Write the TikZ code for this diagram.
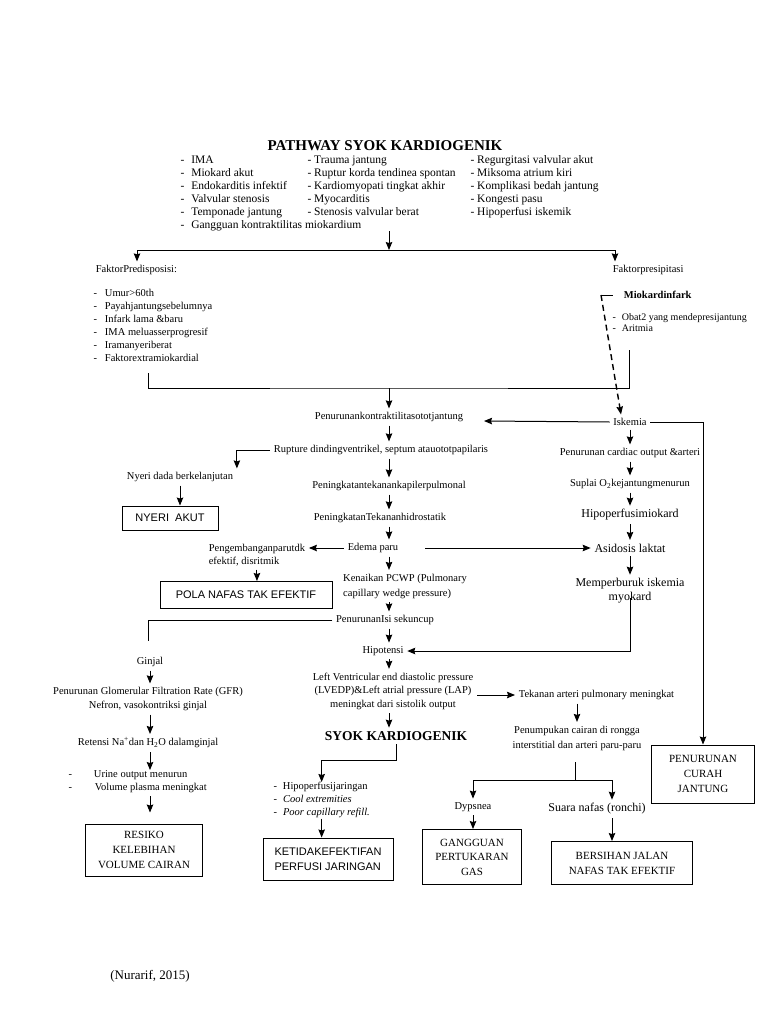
\documentclass[tikz,border=0pt]{standalone}
\usepackage{fontspec}
\setmainfont{Liberation Serif}
\setsansfont{Liberation Sans}
\usetikzlibrary{arrows.meta}

\begin{document}
\begin{tikzpicture}[x=1pt,y=-1pt,line width=1pt,
    >={Stealth[length=8pt,width=6.5pt,inset=1pt]},
    every node/.style={font=\rmfamily\fontsize{10.5}{12}\selectfont},
    big/.style={font=\rmfamily\fontsize{12}{14}\selectfont},
    lst/.style={align=left,inner sep=0pt},
    box/.style={draw,rectangle,align=center,font=\rmfamily\fontsize{11}{15}\selectfont},
    sbox/.style={box,font=\sffamily\fontsize{11}{15}\selectfont}]
    \useasboundingbox (0,0) rectangle (768,1024);
    \fill[white] (0,0) rectangle (768,1024);

    \node(title) at (385,146) {\rmfamily\fontsize{15}{17}\selectfont\bfseries PATHWAY SYOK KARDIOGENIK};
    \node(ca)[lst,anchor=north west,font=\rmfamily\fontsize{11.5}{13}\selectfont] at (180,155)
       {-\hspace{7pt}IMA\\-\hspace{7pt}Miokard akut\\-\hspace{7pt}Endokarditis infektif\\-\hspace{7pt}Valvular stenosis\\-\hspace{7pt}Temponade jantung\\-\hspace{7pt}Gangguan kontraktilitas miokardium};
    \node(cb)[lst,anchor=north west,font=\rmfamily\fontsize{11.5}{13}\selectfont] at (307,155)
       {- Trauma jantung\\- Ruptur korda tendinea spontan\\- Kardiomyopati tingkat akhir\\- Myocarditis\\- Stenosis valvular berat};
    \node(cc)[lst,anchor=north west,font=\rmfamily\fontsize{11.5}{13}\selectfont] at (470,155)
       {- Regurgitasi valvular akut\\- Miksoma atrium kiri\\- Komplikasi bedah jantung\\- Kongesti pasu\\- Hipoperfusi iskemik};

    \coordinate(sm) at (389,250);
    \coordinate(sl) at (137,250);
    \coordinate(sr) at (615,250);
    \draw[->] (ca.south -| sm) -- (sm);
    \draw (sl) -- (sr);
    \node(fpred)[anchor=west] at (92,270) {FaktorPredisposisi:};
    \node(fpres)[anchor=west] at (609,270) {Faktorpresipitasi};
    \draw[->] (sl) -- (sl |- fpred.north);
    \draw[->] (sr) -- (sr |- fpres.north);

    \node(pred)[lst,anchor=north west,font=\rmfamily\fontsize{10.5}{13}\selectfont] at (93,289)
       {-\hspace{8pt}Umur>60th\\-\hspace{8pt}Payahjantungsebelumnya\\-\hspace{8pt}Infark lama \&baru\\-\hspace{8pt}IMA meluasserprogresif\\-\hspace{8pt}Iramanyeriberat\\-\hspace{8pt}Faktorextramiokardial};
    \node(miok)[anchor=west] at (620,295) {\textbf{Miokardinfark}};
    \node(obat)[lst,anchor=north west,font=\rmfamily\fontsize{10}{11.5}\selectfont] at (612,313)
       {-\hspace{6pt}Obat2 yang mendepresijantung\\-\hspace{6pt}Aritmia};

    \coordinate(bl) at (148,373);
    \coordinate(br) at (629,350);
    \coordinate(bm) at (389,388);
    \draw (bl) |- (bm) -| (br);
    \node(pk) at (389,417) {Penurunankontraktilitasototjantung};
    \draw[->] (bm) -- (pk.north);

    \node(isk) at (630,422) {Iskemia};
    \coordinate(mk) at (601,295);
    \draw (mk) -- ++(12,0);
    \draw[dashed,dash pattern=on 6pt off 4pt,line width=1.4pt,->] (mk) -- ([xshift=-9pt]isk.north);
    \coordinate(ia) at (484,421);
    \draw[->] (isk.west) -- (ia);
    \node(pcj)[box,minimum width=103,minimum height=58] at (703,774) {PENURUNAN\\CURAH\\JANTUNG};
    \draw[->] (isk.east) -| (pcj.north);

    \node(pco) at (630,453) {Penurunan cardiac output \&arteri};
    \node(sup) at (630,484) {Suplai O\textsubscript{2}kejantungmenurun};
    \node(hpm)[big] at (630,515) {Hipoperfusimiokard};
    \node(asl)[big] at (630,548) {Asidosis laktat};
    \node(mpk)[big,align=center] at (630,591) {Memperburuk iskemia\\myokard};
    \draw[->] (isk) -- (pco);
    \draw[->] (pco) -- (sup);
    \draw[->] (sup) -- (hpm);
    \draw[->] (hpm) -- (asl);
    \draw[->] (asl) -- (mpk);

    \node(rup) at (381,450) {Rupture dindingventrikel, septum atauototpapilaris};
    \draw[->] (pk) -- (pk |- rup.north);
    \node(ptk) at (389,486) {Peningkatantekanankapilerpulmonal};
    \draw[->] (pk |- rup.south) -- (ptk);
    \node(pth) at (380,518) {PeningkatanTekananhidrostatik};
    \draw[->] (ptk) -- (ptk |- pth.north);
    \node(edm) at (373,548) {Edema paru};
    \draw[->] (ptk |- pth.south) -- (ptk |- edm.north);
    \node(pcwp)[align=left,font=\rmfamily\fontsize{10.5}{15}\selectfont] at (405,586) {Kenaikan PCWP (Pulmonary\\capillary wedge pressure)};
    \draw[->] (ptk |- edm.south) -- (ptk |- pcwp.north);
    \node(isi) at (385,620) {PenurunanIsi sekuncup};
    \draw[->] (ptk |- pcwp.south) -- (ptk |- isi.north);
    \node(hip) at (383,651) {Hipotensi};
    \draw[->] (ptk |- isi.south) -- (ptk |- hip.north);
    \node(lv)[align=center,font=\rmfamily\fontsize{10.5}{13.5}\selectfont] at (393,691)
       {Left Ventricular end diastolic pressure\\(LVEDP)\&Left atrial pressure (LAP)\\meningkat dari sistolik output};
    \draw[->] (ptk |- hip.south) -- (ptk |- lv.north);
    \node(syk) at (396,736) {\rmfamily\fontsize{13.5}{15}\selectfont\bfseries SYOK KARDIOGENIK};
    \draw[->] (ptk |- lv.south) -- (ptk |- syk.north);

    \coordinate(mm) at (630,598);
    \draw[->] (mm) |- (hip.east);

    \node(pgm)[align=left,anchor=north west,font=\rmfamily\fontsize{10.5}{13}\selectfont] at (205,540) {Pengembanganparutdk\\efektif, disritmik};
    \draw[->] (edm.west) -- (edm.west -| pgm.east);
    \coordinate(ea) at (425,548);
    \draw[->] (ea) -- (asl.west);
    \node(pola)[sbox,minimum width=172,minimum height=27] at (246,595) {POLA NAFAS TAK EFEKTIF};
    \draw[->] (pgm.south) -- (pgm.south |- pola.north);

    \node(nyr) at (180,477) {Nyeri dada berkelanjutan};
    \draw[->] (rup.west) -| (nyr.north east);
    \node(nyb)[sbox,minimum width=96,minimum height=24] at (170,518) {NYERI\ \ AKUT};
    \draw[->] (nyr) -- (nyr |- nyb.north);

    \node(gnj) at (150,662) {Ginjal};
    \coordinate(gt) at (148,641);
    \draw (isi.west) -| (gt);
    \node(gfr)[align=center,font=\rmfamily\fontsize{10.5}{14}\selectfont] at (148,699)
       {Penurunan Glomerular Filtration Rate (GFR)\\Nefron, vasokontriksi ginjal};
    \draw[->] (gnj) -- (gnj |- gfr.north);
    \node(ret) at (148,743) {Retensi Na\textsuperscript{+}dan H\textsubscript{2}O dalamginjal};
    \draw[->] (gnj |- gfr.south) -- (gnj |- ret.north);
    \node(uri)[lst,anchor=north west,font=\rmfamily\fontsize{10.5}{13}\selectfont] at (68,770)
       {-\hspace{22pt}Urine output menurun\\-\hspace{23pt}Volume plasma meningkat};
    \draw[->] (gnj |- ret.south) -- (gnj |- uri.north);
    \node(rkv)[box,minimum width=117,minimum height=52] at (144,850) {RESIKO\\KELEBIHAN\\VOLUME CAIRAN};
    \draw[->,shorten <=3pt,shorten >=11pt] (gnj |- uri.south) -- (gnj |- rkv.north);

    \node(hpj)[lst,anchor=north west,font=\rmfamily\fontsize{10.5}{13}\selectfont] at (273,782)
       {-\hspace{6pt}Hipoperfusijaringan\\-\hspace{6pt}\textit{Cool extremities}\\-\hspace{6pt}\textit{Poor capillary refill.}};
    \draw[->] (syk.south) -- ++(0,16) -| (hpj.north);
    \node(ktj)[sbox,align=left,minimum width=130,minimum height=42] at (328,859) {KETIDAKEFEKTIFAN\\PERFUSI JARINGAN};
    \draw[->] (hpj.south) -- (hpj.south |- ktj.north);

    \node(tek)[anchor=west] at (515,695) {Tekanan arteri pulmonary meningkat};
    \draw[->] (lv.east |- tek.west) -- (tek.west);
    \node(pnc)[align=center,font=\rmfamily\fontsize{10.5}{15}\selectfont] at (577,738)
       {Penumpukan cairan di rongga\\interstitial dan arteri paru-paru};
    \draw[->] (pnc.north |- tek.south) -- (pnc.north);
    \coordinate(pt) at (575,762);
    \coordinate(pj) at (575,780);
    \coordinate(dr) at (612,780);
    \node(dys) at (473,807) {Dypsnea};
    \node(snr)[big] at (597,809) {Suara nafas (ronchi)};
    \draw (pt) -- (pj);
    \draw[->] (pj) -| (dys.north);
    \draw[->] (pj) -- (dr) -- (dr |- snr.north);
    \node(ggp)[box,minimum width=99,minimum height=55,font=\rmfamily\fontsize{11}{14.5}\selectfont] at (472,857) {GANGGUAN\\PERTUKARAN\\GAS};
    \draw[->] (dys) -- (dys |- ggp.north);
    \node(bjn)[box,minimum width=141,minimum height=43] at (622,863) {BERSIHAN JALAN\\NAFAS TAK EFEKTIF};
    \draw[->] (dr |- snr.south) -- (dr |- bjn.north);

    \node(src)[font=\rmfamily\fontsize{13}{15}\selectfont] at (150,976) {(Nurarif, 2015)};
\end{tikzpicture}
\end{document}
